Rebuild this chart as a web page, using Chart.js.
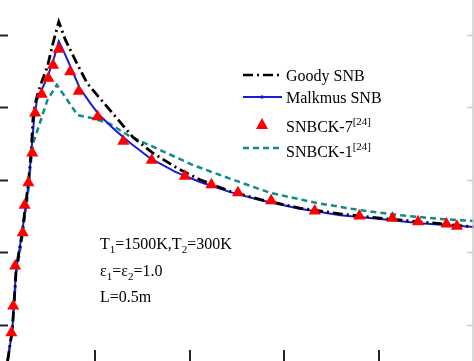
<!DOCTYPE html>
<html>
<head>
<meta charset="utf-8">
<script src="https://cdn.jsdelivr.net/npm/chart.js"></script>
<style>
  html, body { margin: 0; padding: 0; background: #fff; }
  #wrap { width: 474px; height: 361px; }
</style>
</head>
<body>
<div id="wrap"><canvas id="myChart" width="474" height="361"></canvas></div>
<script>
// data (x in m, y in tick units)
var goodyX = [0.008, 0.013, 0.017, 0.023, 0.030, 0.033, 0.035, 0.038, 0.042, 0.050, 0.056, 0.062, 0.069, 0.081, 0.092, 0.116, 0.140, 0.161, 0.187, 0.211, 0.243, 0.274, 0.316, 0.359, 0.401, 0.443, 0.500];
var goodyY = [0.50, 0.93, 1.76, 2.24, 2.96, 3.41, 3.89, 4.10, 4.28, 4.56, 4.89, 5.18, 4.93, 4.61, 4.33, 3.96, 3.59, 3.37, 3.16, 3.00, 2.84, 2.73, 2.61, 2.53, 2.47, 2.42, 2.35];

var malkX = [0.008, 0.013, 0.017, 0.023, 0.030, 0.033, 0.036, 0.039, 0.044, 0.051, 0.057, 0.062, 0.069, 0.076, 0.084, 0.095, 0.105, 0.121, 0.137, 0.158, 0.185, 0.211, 0.243, 0.274, 0.316, 0.359, 0.401, 0.443, 0.500];
var malkY = [0.50, 0.93, 1.76, 2.24, 2.93, 3.37, 3.85, 4.10, 4.24, 4.45, 4.68, 4.91, 4.72, 4.51, 4.27, 4.06, 3.89, 3.69, 3.51, 3.30, 3.11, 2.97, 2.83, 2.72, 2.60, 2.51, 2.46, 2.40, 2.35];

var ck7X = [0.012, 0.014, 0.016, 0.024, 0.026, 0.030, 0.034, 0.037, 0.044, 0.051, 0.056, 0.062, 0.074, 0.083, 0.103, 0.130, 0.160, 0.195, 0.223, 0.251, 0.286, 0.332, 0.379, 0.414, 0.441, 0.471, 0.482];
var ck7Y = [0.89, 1.26, 1.81, 2.27, 2.65, 2.96, 3.37, 3.92, 4.18, 4.40, 4.58, 4.80, 4.49, 4.22, 3.87, 3.53, 3.27, 3.05, 2.93, 2.82, 2.71, 2.57, 2.50, 2.47, 2.42, 2.39, 2.36];

var ck1X = [0.008, 0.013, 0.017, 0.023, 0.030, 0.032, 0.035, 0.042, 0.050, 0.060, 0.071, 0.082, 0.098, 0.116, 0.137, 0.169, 0.204, 0.246, 0.285, 0.334, 0.380, 0.422, 0.464, 0.500];
var ck1Y = [0.50, 0.93, 1.69, 2.17, 2.86, 3.18, 3.51, 3.78, 4.10, 4.31, 4.10, 3.89, 3.85, 3.77, 3.60, 3.41, 3.20, 3.00, 2.82, 2.68, 2.58, 2.51, 2.46, 2.43];

var xTicks = [0.1, 0.2, 0.3, 0.4];
var yTicks = [1, 2, 3, 4, 5];

function pts(xs, ys) {
    return xs.map(function (x, i) { return { x: x, y: ys[i] }; });
}

var serif = '"Liberation Serif", "Times New Roman", serif';

// draw text with sub/superscripts: parts = [[text, kind], ...]
function drawParts(ctx, x, y, parts, size) {
    parts.forEach(function (p) {
        var kind = p[1] || 'n';
        var fs = kind == 'n' ? size : Math.round(size * 0.68);
        var dy = kind == 'sub' ? size * 0.28 : (kind == 'sup' ? -size * 0.42 : 0);
        ctx.font = fs + 'px ' + serif;
        ctx.fillText(p[0], x, y + dy);
        x += ctx.measureText(p[0]).width;
    });
}

var overlay = {
    id: 'overlay',
    afterDraw: function (chart) {
        var ctx = chart.ctx;
        var xs = chart.scales.x, ys = chart.scales.y;
        ctx.save();

        // tick marks (axis lines are cropped off)
        ctx.strokeStyle = '#222';
        ctx.lineWidth = 2;
        yTicks.forEach(function (v) {
            var py = Math.round(ys.getPixelForValue(v)) + 0.5;
            ctx.beginPath(); ctx.moveTo(0, py); ctx.lineTo(8, py); ctx.stroke();
        });
        xTicks.forEach(function (v) {
            var px = Math.round(xs.getPixelForValue(v));
            ctx.beginPath(); ctx.moveTo(px, 350); ctx.lineTo(px, 361); ctx.stroke();
        });
        // right frame, faint
        ctx.strokeStyle = '#cccccc';
        ctx.lineWidth = 1.5;
        ctx.beginPath(); ctx.moveTo(473, 0); ctx.lineTo(473, 361); ctx.stroke();
        yTicks.forEach(function (v) {
            var py = Math.round(ys.getPixelForValue(v)) + 0.5;
            ctx.beginPath(); ctx.moveTo(467, py); ctx.lineTo(473, py); ctx.stroke();
        });

        // legend
        ctx.fillStyle = '#000';
        ctx.textBaseline = 'alphabetic';
        ctx.lineCap = 'butt';
        ctx.strokeStyle = '#000'; ctx.lineWidth = 2.5; ctx.setLineDash([10, 4, 2, 4]);
        ctx.beginPath(); ctx.moveTo(243, 75); ctx.lineTo(282, 75); ctx.stroke();
        ctx.strokeStyle = '#1a1ad6'; ctx.lineWidth = 1.8; ctx.setLineDash([]);
        ctx.beginPath(); ctx.moveTo(243, 97); ctx.lineTo(282, 97); ctx.stroke();
        ctx.fillStyle = '#1a1ad6';
        ctx.beginPath(); ctx.arc(262, 97, 1.8, 0, Math.PI * 2); ctx.fill();
        ctx.fillStyle = '#ff0000';
        ctx.beginPath(); ctx.moveTo(262, 118); ctx.lineTo(268, 129); ctx.lineTo(256, 129); ctx.closePath(); ctx.fill();
        ctx.strokeStyle = '#138a8a'; ctx.lineWidth = 2.5; ctx.setLineDash([6, 4]);
        ctx.beginPath(); ctx.moveTo(243, 148); ctx.lineTo(282, 148); ctx.stroke();
        ctx.setLineDash([]);

        ctx.fillStyle = '#000';
        drawParts(ctx, 286, 81, [['Goody SNB']], 16);
        drawParts(ctx, 286, 103, [['Malkmus SNB']], 16);
        drawParts(ctx, 286, 132, [['SNBCK-7'], ['[24]', 'sup']], 16);
        drawParts(ctx, 286, 157, [['SNBCK-1'], ['[24]', 'sup']], 16);

        // case parameters
        drawParts(ctx, 100, 249, [['T'], ['1', 'sub'], ['=1500K,T'], ['2', 'sub'], ['=300K']], 16);
        drawParts(ctx, 100, 276, [['\u03b5'], ['1', 'sub'], ['=\u03b5'], ['2', 'sub'], ['=1.0']], 16);
        drawParts(ctx, 100, 302, [['L=0.5m']], 16);

        ctx.restore();
    }
};

var ctx = document.getElementById('myChart');

var data = {
    datasets: [
        {
            label: 'SNBCK-7',
            data: pts(ck7X, ck7Y),
            showLine: false,
            pointStyle: 'triangle',
            pointRadius: 7,
            backgroundColor: '#ff0000',
            borderColor: '#ff0000',
            borderWidth: 0,
            order: 0
        },
        {
            label: 'Goody SNB',
            data: pts(goodyX, goodyY),
            borderColor: '#000000',
            borderWidth: 2.8,
            borderDash: [10, 4, 2, 4],
            pointRadius: 0,
            order: 1
        },
        {
            label: 'Malkmus SNB',
            data: pts(malkX, malkY),
            borderColor: '#1a1ad6',
            borderWidth: 2,
            pointRadius: 0,
            order: 2
        },
        {
            label: 'SNBCK-1',
            data: pts(ck1X, ck1Y),
            borderColor: '#138a8a',
            borderWidth: 2.5,
            borderDash: [6, 4],
            pointRadius: 0,
            order: 3
        }
    ]
};

var options = {
    responsive: false,
    animation: false,
    layout: { padding: 0, autoPadding: false },
    elements: { line: { tension: 0, fill: false } },
    scales: {
        x: { type: 'linear', min: 0, max: 0.5, display: false },
        y: { type: 'linear', min: 0.5, max: 5.48, display: false }
    },
    plugins: {
        legend: { display: false },
        tooltip: { enabled: false }
    }
};

var myChart = new Chart(ctx, {
    type: 'line',
    data: data,
    options: options,
    plugins: [overlay]
});
</script>
</body>
</html>
